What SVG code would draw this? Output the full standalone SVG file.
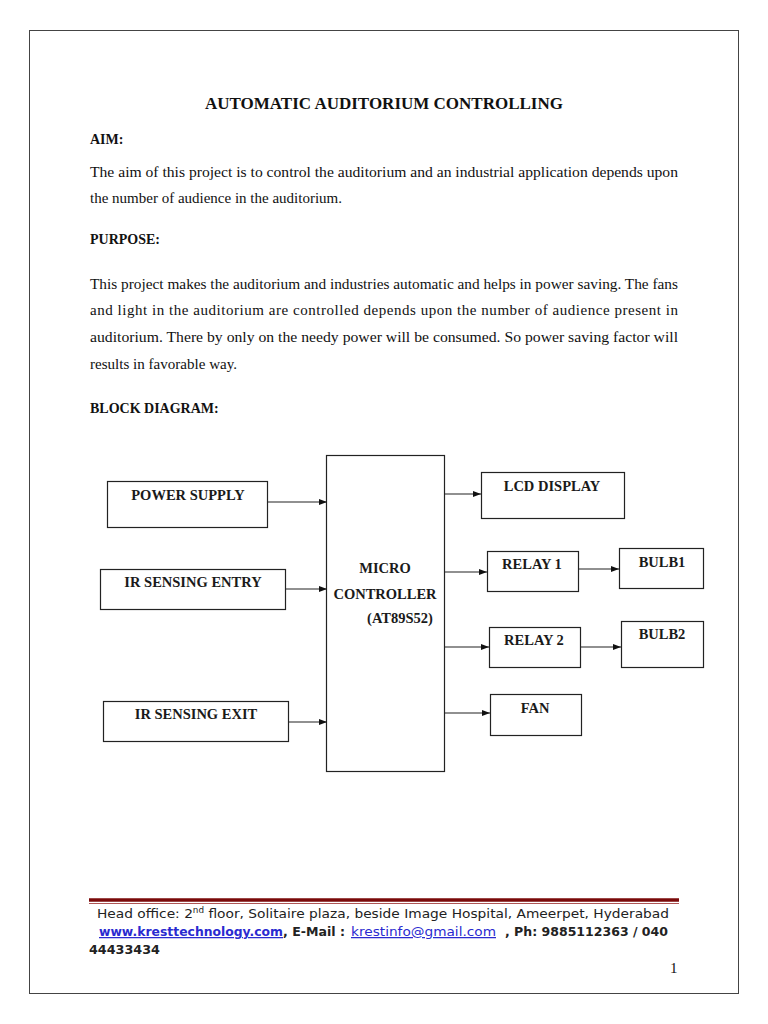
<svg xmlns="http://www.w3.org/2000/svg" width="768" height="1024" viewBox="0 0 768 1024">
<style>
.body{font-family:"Liberation Serif","Times New Roman",serif;font-size:15px;fill:#111}
.head{font-family:"Liberation Serif","Times New Roman",serif;font-size:14px;font-weight:bold;fill:#111}
.title{font-family:"Liberation Serif","Times New Roman",serif;font-size:17px;font-weight:bold;fill:#111}
.box{fill:#fff;stroke:#222;stroke-width:1.2}
.lbl{font-family:"Liberation Serif","Times New Roman",serif;font-size:14.5px;font-weight:bold;fill:#1a1a1a;text-anchor:middle}
.conn{stroke:#222;stroke-width:1.1;fill:none;marker-end:url(#ah)}
.foot{font-family:"DejaVu Sans","Liberation Sans",sans-serif;font-size:12.5px;fill:#222}
.fb{font-family:"DejaVu Sans","Liberation Sans",sans-serif;font-size:12.5px;font-weight:bold;fill:#222}
.link{fill:#2a2ad0}
</style>
<defs>
<marker id="ah" markerWidth="8" markerHeight="6" refX="8" refY="3" orient="auto" markerUnits="userSpaceOnUse">
<path d="M0,0 L8,3 L0,6 Z" fill="#111"/>
</marker>
</defs>
<rect x="29.5" y="30.5" width="709" height="963" fill="#fff" stroke="#444" stroke-width="1"/>

<g id="text">
<text class="title" x="384" y="109" text-anchor="middle">AUTOMATIC AUDITORIUM CONTROLLING</text>
<text class="head" x="90" y="144">AIM:</text>
<text class="body" x="90" y="177" textLength="588" lengthAdjust="spacingAndGlyphs">The aim of this project is to control the auditorium and an industrial application depends upon</text>
<text class="body" x="90" y="203" textLength="252" lengthAdjust="spacingAndGlyphs">the number of audience in the auditorium.</text>
<text class="head" x="90" y="244">PURPOSE:</text>
<text class="body" x="90" y="289" textLength="588" lengthAdjust="spacingAndGlyphs">This project makes the auditorium and industries automatic and helps in power saving. The fans</text>
<text class="body" x="90" y="315" textLength="588" lengthAdjust="spacing">and light in the auditorium are controlled depends upon the number of audience present in</text>
<text class="body" x="90" y="342" textLength="588" lengthAdjust="spacingAndGlyphs">auditorium. There by only on the needy power will be consumed. So power saving factor will</text>
<text class="body" x="90" y="369" textLength="147" lengthAdjust="spacingAndGlyphs">results in favorable way.</text>
<text class="head" x="90" y="413">BLOCK DIAGRAM:</text>
</g>

<g id="power-supply"><rect class="box" x="107.5" y="481.5" width="160" height="46"/><text class="lbl" x="188" y="500">POWER SUPPLY</text></g>
<g id="ir-entry"><rect class="box" x="100.5" y="569.5" width="185" height="40"/><text class="lbl" x="193" y="587">IR SENSING ENTRY</text></g>
<g id="ir-exit"><rect class="box" x="103.5" y="701.5" width="185" height="40"/><text class="lbl" x="196" y="719">IR SENSING EXIT</text></g>
<g id="micro"><rect class="box" x="326.5" y="455.5" width="118" height="316"/>
<text class="lbl" x="385" y="573">MICRO</text>
<text class="lbl" x="385" y="599">CONTROLLER</text>
<text class="lbl" x="400" y="623">(AT89S52)</text></g>
<g id="lcd"><rect class="box" x="481.5" y="472.5" width="143" height="46"/><text class="lbl" x="552" y="491">LCD DISPLAY</text></g>
<g id="relay1"><rect class="box" x="487.5" y="551.5" width="91" height="40"/><text class="lbl" x="532" y="569">RELAY 1</text></g>
<g id="bulb1"><rect class="box" x="619.5" y="548.5" width="84" height="40"/><text class="lbl" x="662" y="567">BULB1</text></g>
<g id="relay2"><rect class="box" x="489.5" y="627.5" width="91" height="40"/><text class="lbl" x="534" y="645">RELAY 2</text></g>
<g id="bulb2"><rect class="box" x="621.5" y="621.5" width="82" height="46"/><text class="lbl" x="662" y="639">BULB2</text></g>
<g id="fan"><rect class="box" x="490.5" y="694.5" width="91" height="41"/><text class="lbl" x="535" y="713">FAN</text></g>

<g id="connectors">
<line class="conn" x1="268" y1="502" x2="327" y2="502"/>
<line class="conn" x1="286" y1="589" x2="327" y2="589"/>
<line class="conn" x1="289" y1="722" x2="327" y2="722"/>
<line class="conn" x1="445" y1="494" x2="481" y2="494"/>
<line class="conn" x1="445" y1="572" x2="487" y2="572"/>
<line class="conn" x1="579" y1="569" x2="619" y2="569"/>
<line class="conn" x1="445" y1="647" x2="489" y2="647"/>
<line class="conn" x1="581" y1="647" x2="621" y2="647"/>
<line class="conn" x1="445" y1="713" x2="490" y2="713"/>
</g>

<g id="footer">
<line x1="89" y1="900" x2="679" y2="900" stroke="#7a0a0a" stroke-width="3.5"/>
<line x1="89" y1="903.5" x2="679" y2="903.5" stroke="#9a2a2a" stroke-width="0.8"/>
<text class="foot" x="97" y="918" textLength="572" lengthAdjust="spacingAndGlyphs">Head office: 2<tspan font-size="8" dy="-5">nd</tspan><tspan dy="5"> floor, Solitaire plaza, beside Image Hospital, Ameerpet, Hyderabad</tspan></text>
<text class="fb link" x="99" y="936" textLength="184" lengthAdjust="spacingAndGlyphs" text-decoration="underline">www.kresttechnology.com</text>
<text class="fb" x="283" y="936" textLength="62" lengthAdjust="spacingAndGlyphs">, E-Mail : </text>
<text class="foot link" x="351" y="936" textLength="145" lengthAdjust="spacingAndGlyphs" text-decoration="underline">krestinfo@gmail.com</text>
<text class="fb" x="505" y="936" textLength="163" lengthAdjust="spacingAndGlyphs">, Ph: 9885112363 / 040</text>
<text class="fb" x="89" y="954" textLength="71" lengthAdjust="spacingAndGlyphs">44433434</text>
<text class="body" x="670" y="973">1</text>
</g>
</svg>
